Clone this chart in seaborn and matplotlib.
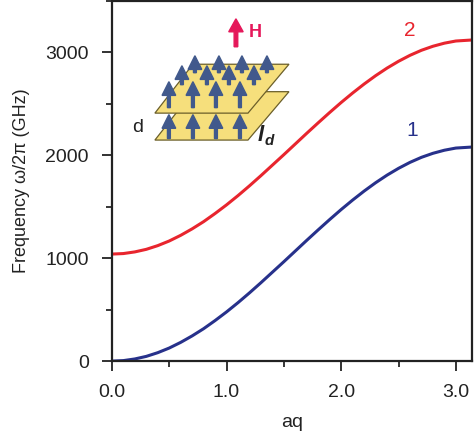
import numpy as np
import pandas as pd
import matplotlib
matplotlib.use("Agg")
import matplotlib.pyplot as plt
from matplotlib.patches import Polygon, FancyArrow
from matplotlib.ticker import MultipleLocator
import seaborn as sns

# values
aq = [0.0, 0.1, 0.2, 0.3, 0.4, 0.5, 0.6, 0.7, 0.8, 0.9, 1.0, 1.1, 1.2, 1.3, 1.4, 1.5,
      1.6, 1.7, 1.8, 1.9, 2.0, 2.1, 2.2, 2.3, 2.4, 2.5, 2.6, 2.7, 2.8, 2.9, 3.0, 3.1416]
mode1 = [0, 5, 21, 46, 82, 127, 182, 245, 315, 394, 478, 568, 663, 762, 864, 966,
         1070, 1174, 1276, 1376, 1473, 1565, 1652, 1733, 1807, 1873, 1931, 1980, 2019, 2049, 2070, 2080]
mode2 = [1040, 1045, 1061, 1086, 1122, 1167, 1222, 1285, 1355, 1434, 1518, 1608, 1703, 1802, 1904, 2006,
         2110, 2214, 2316, 2416, 2513, 2605, 2692, 2773, 2847, 2913, 2971, 3020, 3059, 3089, 3110, 3120]
labels = ["1", "2"]

df = pd.DataFrame({"aq": aq * 2,
                   "freq": mode1 + mode2,
                   "mode": [labels[0]] * len(aq) + [labels[1]] * len(aq)})

sns.set_style("ticks")
plt.rcParams["font.family"] = ["Liberation Sans", "DejaVu Sans"]

blue = "#27318b"
red = "#e8252e"
ink = "#222222"

fig = plt.figure(figsize=(4.74, 4.33), dpi=100)
ax = fig.add_axes([0.236, 0.166, 0.76, 0.832])

sns.lineplot(data=df, x="aq", y="freq", hue="mode", palette={"1": blue, "2": red},
             linewidth=2.2, legend=False, ax=ax)

ax.set_xlim(0, np.pi)
ax.set_ylim(0, 3500)
ax.xaxis.set_major_locator(MultipleLocator(1.0))
ax.xaxis.set_minor_locator(MultipleLocator(0.5))
ax.yaxis.set_major_locator(MultipleLocator(1000))
ax.yaxis.set_minor_locator(MultipleLocator(500))
ax.xaxis.set_major_formatter(matplotlib.ticker.FormatStrFormatter("%.1f"))
ax.tick_params(axis="both", which="major", direction="out", length=7.5, width=1.3,
               labelsize=14, colors=ink, pad=9)
ax.tick_params(axis="both", which="minor", direction="out", length=4, width=1.3)
for s in ax.spines.values():
    s.set_linewidth(1.6)
    s.set_color(ink)

ax.set_xlabel("aq", fontsize=14, labelpad=9, color=ink)
ax.set_ylabel("Frequency ω/2π (GHz)", fontsize=13, labelpad=11, color=ink)

ax.text(2.62, 2240, "1", color=blue, fontsize=15, ha="center", va="center")
ax.text(2.6, 3210, "2", color=red, fontsize=15, ha="center", va="center")

# inset sketch of two magnetic layers, pixel positions -> axes fraction
def fx(px):
    return (px - 112) / 360.0

def fy(py):
    return (361 - py) / 361.0

plane_fill = "#f6df7c"
plane_edge = "#6b5f2a"
arrow_col = "#41598c"

def plane(top, bot):
    pts = [(fx(155), fy(bot)), (fx(248), fy(bot)), (fx(289), fy(top)), (fx(193), fy(top))]
    ax.add_patch(Polygon(pts, closed=True, facecolor=plane_fill, edgecolor=plane_edge,
                         linewidth=0.9, transform=ax.transAxes, zorder=5))

def spin(px, base, tip, z):
    ax.add_patch(FancyArrow(fx(px), fy(base), 0, fy(tip) - fy(base), width=0.008,
                            head_width=0.038, head_length=0.038, length_includes_head=True,
                            color=arrow_col, transform=ax.transAxes, zorder=z))

plane(91, 139.5)
for px in [169, 193, 216, 240]:
    spin(px, 138, 114, 6)
plane(63.5, 112.5)
for px in [195, 219, 242, 267]:
    spin(px, 72, 55, 7)
for px in [182, 207, 229, 254]:
    spin(px, 84, 65, 8)
for px in [169, 193, 216, 240]:
    spin(px, 107, 81, 9)

ax.add_patch(FancyArrow(fx(236), fy(46), 0, fy(18) - fy(46), width=0.010,
                        head_width=0.040, head_length=0.036, length_includes_head=True,
                        color="#e5185a", transform=ax.transAxes, zorder=9))
ax.text(fx(249), fy(32), "H", color="#e5185a", fontsize=13, fontweight="bold",
        transform=ax.transAxes, va="center", ha="left", zorder=9)
ax.text(fx(138), fy(127), "d", color=ink, fontsize=14, transform=ax.transAxes,
        va="center", ha="center", zorder=9)
ax.text(fx(258), fy(135), "l", color=ink, fontsize=16, fontweight="bold", fontstyle="italic",
        transform=ax.transAxes, va="center", ha="left", zorder=9)
ax.text(fx(265), fy(140), "d", color=ink, fontsize=11, fontweight="bold", fontstyle="italic",
        transform=ax.transAxes, va="center", ha="left", zorder=9)

fig.savefig("out.png", dpi=100)
